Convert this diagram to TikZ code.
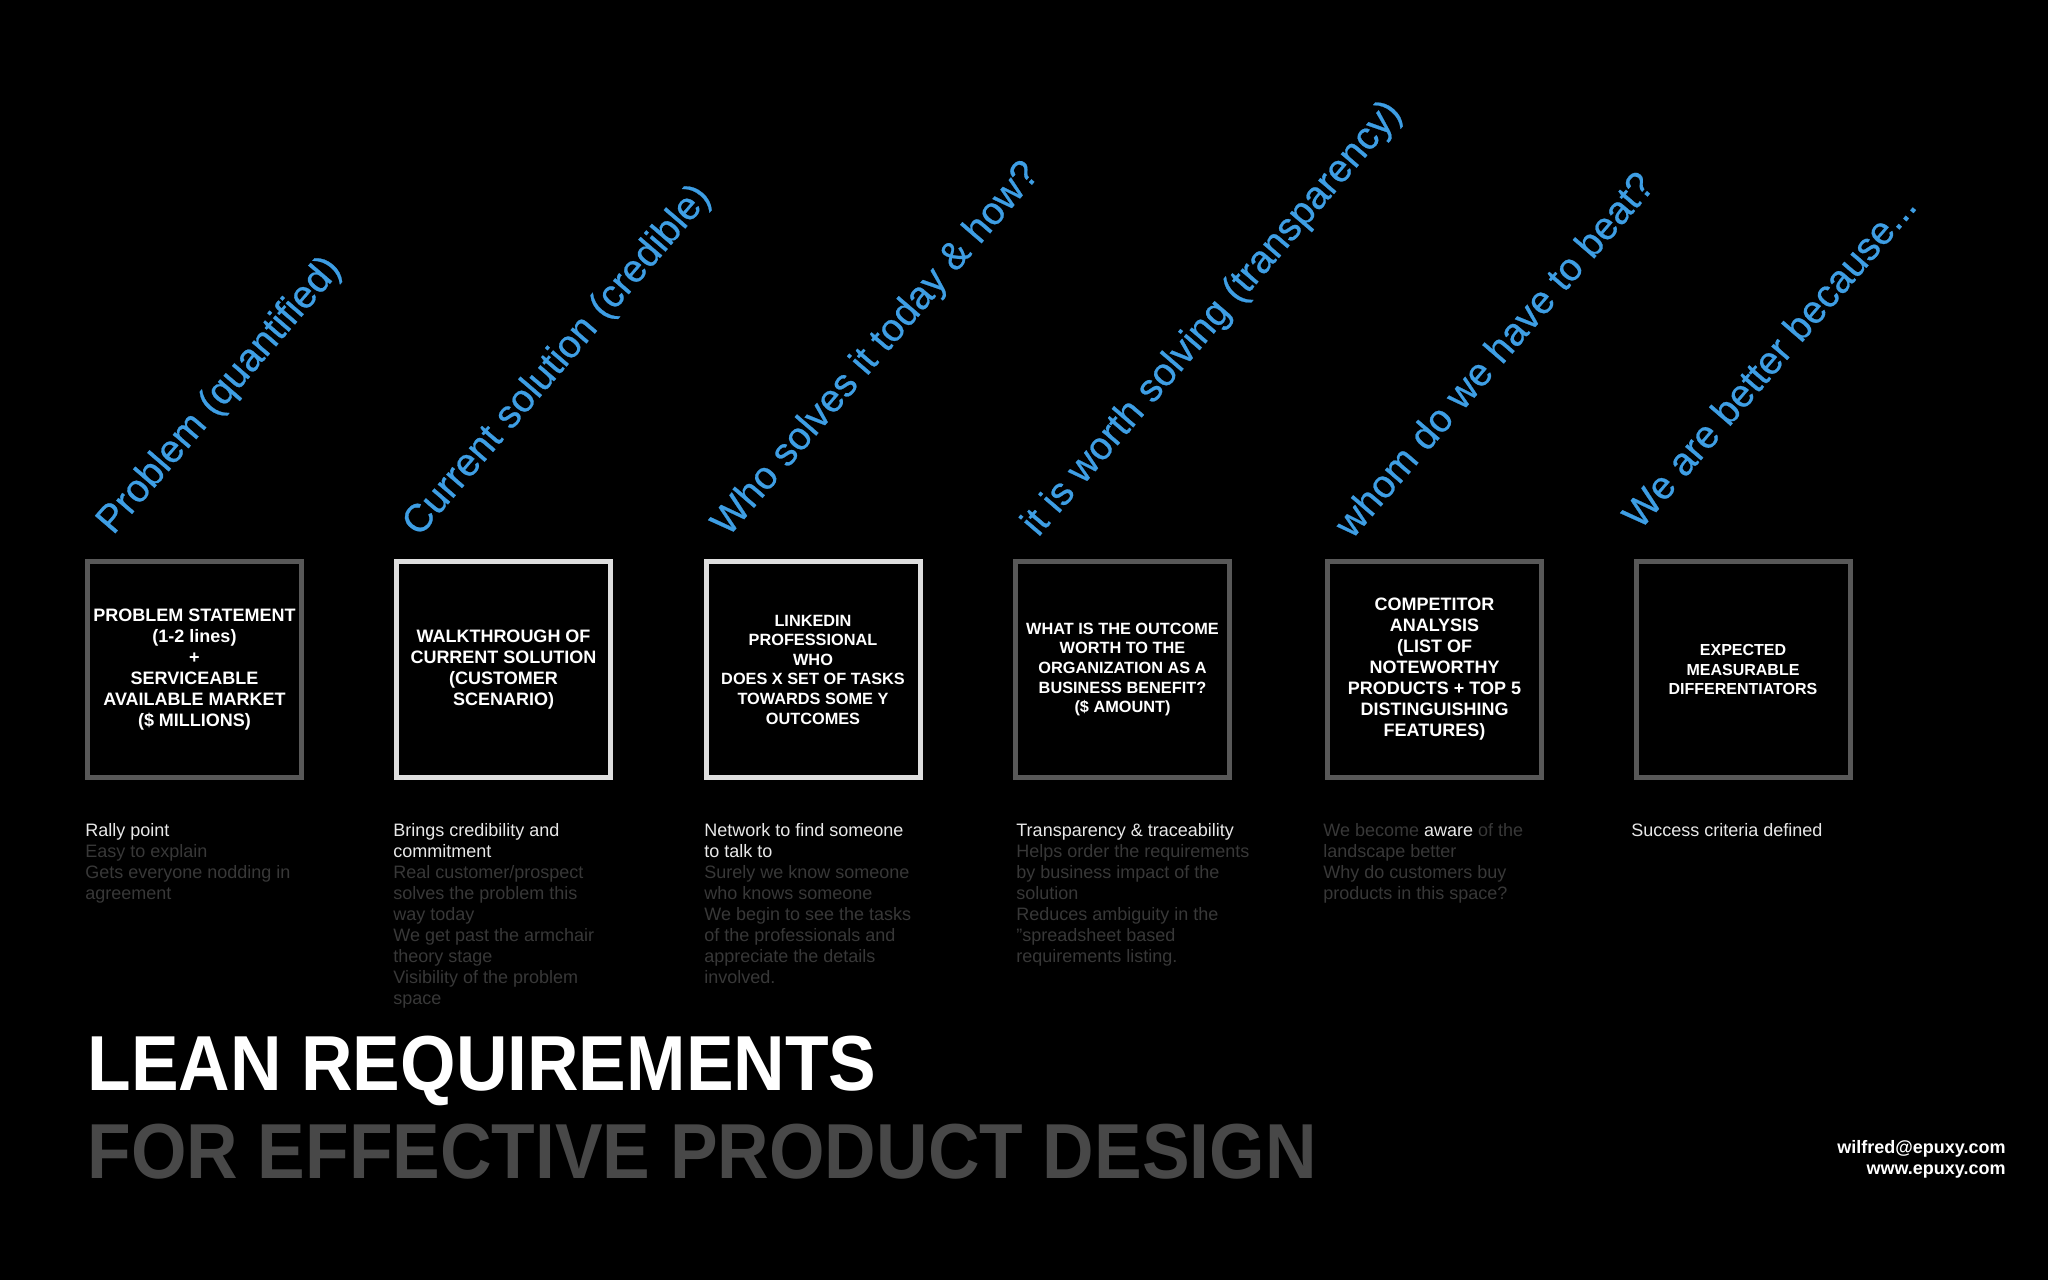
\documentclass[tikz,border=0pt]{standalone}
\usepackage{fontspec}
\setmainfont{Liberation Sans}
\newfontfamily\lblfont[FakeBold=0.6]{Liberation Sans}
\definecolor{lblue}{RGB}{62,158,228}
\definecolor{bdark}{RGB}{88,88,88}
\definecolor{blight}{RGB}{222,222,222}
\definecolor{txtw}{RGB}{232,232,232}
\definecolor{txtg}{RGB}{56,56,56}
\definecolor{subg}{RGB}{72,72,72}
\begin{document}
\begin{tikzpicture}[x=0.5pt,y=-0.5pt,
  toplabel/.style={rotate=49.3,anchor=base west,inner sep=0pt,text=lblue,font=\lblfont\fontsize{19.5}{19.5}\selectfont},
  card/.style={draw=#1,line width=2.5pt,minimum width=107pt,minimum height=108pt,inner sep=0pt,align=center,text=white},
  bigtxt/.style={font=\bfseries\fontsize{9}{10.5}\selectfont},
  smalltxt/.style={font=\bfseries\fontsize{8.15}{9.8}\selectfont},
  desc/.style={anchor=north west,inner sep=0pt,align=left,text=txtg,font=\fontsize{9}{10.5}\selectfont}]
\fill[black] (0,0) rectangle (2048,1280);
\useasboundingbox (0,0) rectangle (2048,1280);

% rotated headings
\node[toplabel] (h1) at (113,536) {Problem (quantified)};
\node[toplabel] (h2) at (419,538) {Current solution (credible)};
\node[toplabel] (h3) at (728,538) {Who solves it today \& how?};
\node[toplabel] (h4) at (1038,538) {it is worth solving (transparency)};
\node[toplabel] (h5) at (1352,540) {whom do we have to beat?};
\node[toplabel] (h6) at (1640,531) {We are better because...};

% cards
\node[card=bdark,bigtxt] (b1) at (194.5,669.5) {PROBLEM STATEMENT\\(1-2 lines)\\+\\SERVICEABLE\\AVAILABLE MARKET\\(\$ MILLIONS)};
\node[card=blight,bigtxt] (b2) at (503.5,669.5) {WALKTHROUGH OF\\CURRENT SOLUTION\\(CUSTOMER\\SCENARIO)};
\node[card=blight,smalltxt] (b3) at (813,669.5) {LINKEDIN\\PROFESSIONAL\\WHO\\DOES X SET OF TASKS\\TOWARDS SOME Y\\OUTCOMES};
\node[card=bdark,smalltxt] (b4) at (1122.5,669.5) {WHAT IS THE OUTCOME\\WORTH TO THE\\ORGANIZATION AS A\\BUSINESS BENEFIT?\\(\$ AMOUNT)};
\node[card=bdark,bigtxt] (b5) at (1434.5,669.5) {COMPETITOR\\ANALYSIS\\(LIST OF\\NOTEWORTHY\\PRODUCTS + TOP 5\\DISTINGUISHING\\FEATURES)};
\node[card=bdark,font=\bfseries\fontsize{8}{9.9}\selectfont] (b6) at (1743,669.5) {EXPECTED\\MEASURABLE\\DIFFERENTIATORS};

% descriptions
\node[desc] (d1) at (85,821) {\strut\textcolor{txtw}{Rally point}\\Easy to explain\\Gets everyone nodding in\\agreement};
\node[desc] (d2) at (393,821) {\strut\textcolor{txtw}{Brings credibility and}\\\textcolor{txtw}{commitment}\\Real customer/prospect\\solves the problem this\\way today\\We get past the armchair\\theory stage\\Visibility of the problem\\space};
\node[desc] (d3) at (704,821) {\strut\textcolor{txtw}{Network to find someone}\\\textcolor{txtw}{to talk to}\\Surely we know someone\\who knows someone\\We begin to see the tasks\\of the professionals and\\appreciate the details\\involved.};
\node[desc] (d4) at (1016,821) {\strut\textcolor{txtw}{Transparency \& traceability}\\Helps order the requirements\\by business impact of the\\solution\\Reduces ambiguity in the\\"spreadsheet based\\requirements listing.};
\node[desc] (d5) at (1323,821) {\strut We become \textcolor{txtw}{aware} of the\\landscape better\\Why do customers buy\\products in this space?};
\node[desc] (d6) at (1631,821) {\strut\textcolor{txtw}{Success criteria defined}};

% title
\node[anchor=base west,inner sep=0pt,text=white,font=\bfseries\fontsize{39}{39}\selectfont] (t1) at (87,1090) {\scalebox{0.915}[1]{LEAN REQUIREMENTS}};
\node[anchor=base west,inner sep=0pt,text=subg,font=\bfseries\fontsize{39}{39}\selectfont] (t2) at (87,1178) {\scalebox{0.915}[1]{FOR EFFECTIVE PRODUCT DESIGN}};

% contact
\node[anchor=north east,inner sep=0pt,align=right,text=white,font=\bfseries\fontsize{9}{10.5}\selectfont] (c1) at (2006,1138) {\strut wilfred@epuxy.com\\www.epuxy.com};
\end{tikzpicture}
\end{document}
